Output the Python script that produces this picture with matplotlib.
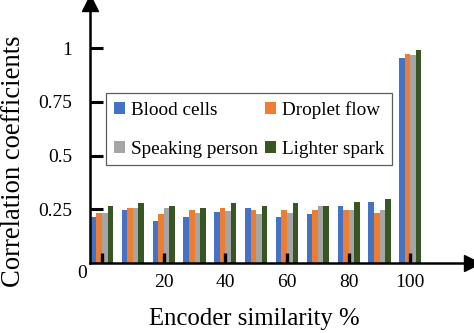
import matplotlib
matplotlib.use("Agg")
import matplotlib.pyplot as plt
import numpy as np

plt.rcParams['font.family'] = ['Liberation Serif', 'DejaVu Serif']

similarity = [0, 10, 20, 30, 40, 50, 60, 70, 80, 90, 100]
blood_cells = [0.215, 0.246, 0.195, 0.215, 0.236, 0.254, 0.215, 0.226, 0.265, 0.285, 0.952]
droplet_flow = [0.231, 0.254, 0.226, 0.246, 0.254, 0.246, 0.246, 0.246, 0.246, 0.234, 0.972]
speaking_person = [0.234, 0.254, 0.254, 0.234, 0.243, 0.226, 0.234, 0.265, 0.246, 0.246, 0.966]
lighter_spark = [0.265, 0.278, 0.265, 0.254, 0.278, 0.265, 0.278, 0.265, 0.285, 0.296, 0.991]
series_names = ["Blood cells", "Droplet flow", "Speaking person", "Lighter spark"]
colors = ["#4472C4", "#ED7D31", "#A5A5A5", "#375623"]
xticks = [20, 40, 60, 80, 100]
yticks = [0.25, 0.5, 0.75, 1]
ytick_labels = ["0.25", "0.5", "0.75", "1"]

fig = plt.figure(figsize=(4.74, 3.33), dpi=100)
ax = fig.add_axes([90/474, (333-263)/333, (472-90)/474, (263-3)/333])

x = np.array(similarity, dtype=float)
bw = 1.8
series = [blood_cells, droplet_flow, speaking_person, lighter_spark]
handles = []
for i, (vals, name, c) in enumerate(zip(series, series_names, colors)):
    b = ax.bar(x + (i - 1.5) * bw, vals, width=bw, color=c, label=name, linewidth=0)
    handles.append(b)

ax.set_xlim(-3.9, 120)
ax.set_ylim(0, 1.21)

for s in ['top', 'right']:
    ax.spines[s].set_visible(False)
for s in ['left', 'bottom']:
    ax.spines[s].set_linewidth(1.8)
    ax.spines[s].set_color('black')

# arrow heads
ax.plot([-3.9], [1.21], marker='^', markersize=12, color='black', clip_on=False)
ax.plot([120], [0], marker='>', markersize=12, color='black', clip_on=False)

ax.set_xticks([0] + xticks)
ax.set_xticklabels([""] + [str(v) for v in xticks])
ax.set_yticks(yticks)
ax.set_yticklabels(ytick_labels)
ax.tick_params(axis='y', direction='in', length=9, width=2.2, pad=13, labelsize=14)
ax.tick_params(axis='x', direction='in', length=7, width=2.4, pad=8, labelsize=14)
ax.text(-3.9 - 2.5, -0.05, "0", ha='center', va='center', fontsize=14)

ax.set_xlabel("Encoder similarity %", fontsize=17.8)
ax.xaxis.set_label_coords(0.43, -0.172)
ax.set_ylabel("Correlation coefficients", fontsize=19.2)
ax.yaxis.set_label_coords(-0.168, 0.39)

order = [0, 2, 1, 3]
leg = ax.legend([handles[k] for k in order], [series_names[k] for k in order],
                ncol=2, loc='upper left', bbox_to_anchor=(0.042, 0.654), fontsize=13.8,
                frameon=True, fancybox=False, edgecolor='#333333', handlelength=0.6,
                handleheight=0.6, handletextpad=0.3, columnspacing=0.35,
                labelspacing=1.15, borderpad=0.4, borderaxespad=0)
leg.get_frame().set_linewidth(0.9)

fig.savefig("out.png", dpi=100)
